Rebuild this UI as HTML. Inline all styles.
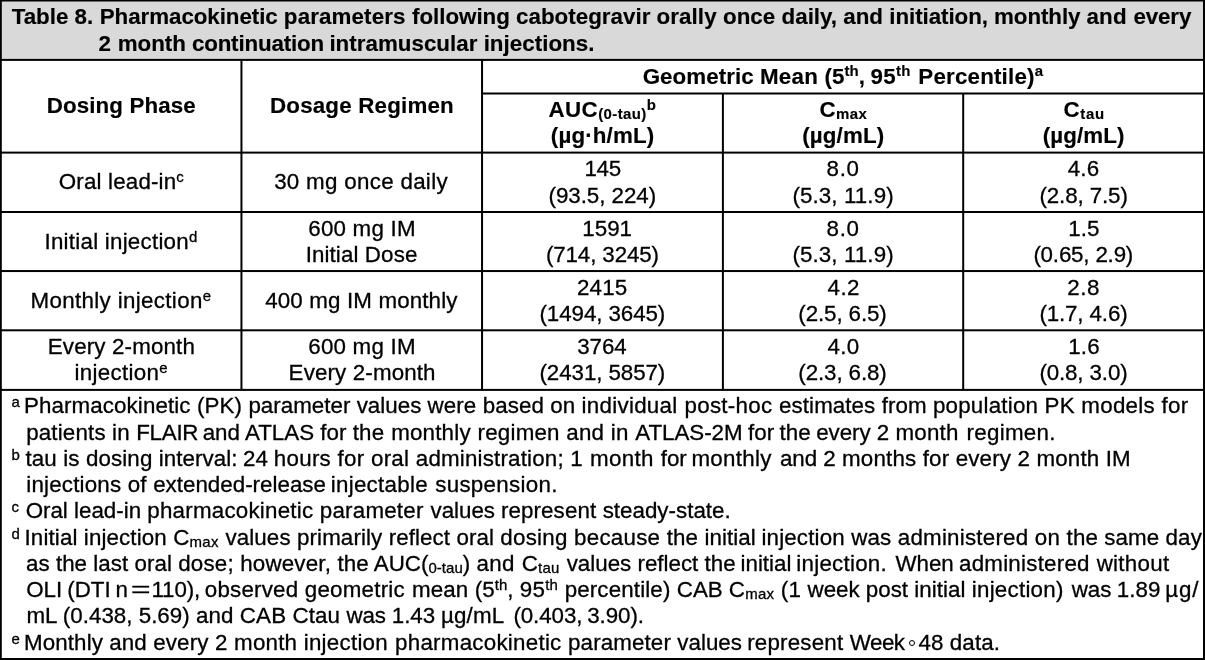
<!DOCTYPE html>
<html><head><meta charset="utf-8"><title>Table 8</title>
<style>
html,body{margin:0;padding:0;background:#fff}
body{width:1205px;height:660px;position:relative;overflow:hidden;will-change:transform;font-family:"Liberation Sans",sans-serif;color:#000}
.hd{position:absolute;left:0;top:0;width:1205px;height:60px;background:#d9d9d9}
.ln{position:absolute;left:0;top:0;fill:#000}
.t{position:absolute;white-space:nowrap;line-height:26px;font-size:22.35px;-webkit-text-stroke:0.3px #000}
.b{font-weight:bold;-webkit-text-stroke:0.15px #000}
.c{transform:translateX(-50%)}
.sp{position:relative;line-height:0}
.eq{display:inline-block;transform:scaleX(1.5);transform-origin:0 50%;margin-right:6.5px}
.ring{display:inline-block;box-sizing:border-box;width:6.6px;height:6.6px;border:1.3px solid #000;border-radius:50%;position:relative;top:-3.7px;margin:0 3px 0 4.3px}
</style></head><body>
<div class="hd"></div>
<svg class="ln" width="1205" height="660" viewBox="0 0 1205 660" shape-rendering="geometricPrecision">
<rect x="0.00" y="0" width="1.8" height="660"/>
<rect x="240.45" y="60" width="2.0" height="330"/>
<rect x="481.05" y="60" width="2.0" height="330"/>
<rect x="721.90" y="93.5" width="2.0" height="296.5"/>
<rect x="962.20" y="93.5" width="2.0" height="296.5"/>
<rect x="1203.00" y="0" width="2.0" height="660"/>
<rect x="0" y="0.00" width="1205" height="1.5"/>
<rect x="0" y="58.90" width="1205" height="2.0"/>
<rect x="481" y="92.50" width="724" height="2.0"/>
<rect x="0" y="151.60" width="1205" height="2.0"/>
<rect x="0" y="211.00" width="1205" height="2.0"/>
<rect x="0" y="270.05" width="1205" height="2.0"/>
<rect x="0" y="329.30" width="1205" height="2.0"/>
<rect x="0" y="388.90" width="1205" height="2.0"/>
<rect x="0" y="658.00" width="1205" height="2.0"/>
</svg>
<div id="t1" class="t b" style="left:11.77px;top:4.00px"><span id="t1_s0" class="sg" style="letter-spacing:-0.040px">Table </span><span id="t1_s1" class="sg" style="letter-spacing:0.127px;word-spacing:0.102px">8. </span><span id="t1_s2" class="sg" style="letter-spacing:-0.059px">Pharmacokinetic </span><span id="t1_s3" class="sg" style="letter-spacing:0.127px;word-spacing:0.040px">parameters </span><span id="t1_s4" class="sg" style="letter-spacing:-0.018px">following </span><span id="t1_s5" class="sg" style="letter-spacing:0.015px">cabotegravir </span><span id="t1_s6" class="sg" style="letter-spacing:0.071px">orally </span><span id="t1_s7" class="sg" style="letter-spacing:0.060px">once </span><span id="t1_s8" class="sg" style="letter-spacing:-0.013px">daily, </span><span id="t1_s9" class="sg" style="letter-spacing:0.038px">and </span><span id="t1_s10" class="sg" style="letter-spacing:-0.062px">initiation, </span><span id="t1_s11" class="sg" style="letter-spacing:-0.073px">monthly </span><span id="t1_s12" class="sg" style="letter-spacing:0.127px;word-spacing:0.382px">and </span><span id="t1_s13" class="sg" style="letter-spacing:-0.102px">every</span></div>
<div id="t2" class="t b" style="left:98.44px;top:31.00px"><span id="t2_s0" class="sg" style="letter-spacing:0.337px">2 </span><span id="t2_s1" class="sg" style="letter-spacing:-0.057px">month </span><span id="t2_s2" class="sg" style="letter-spacing:-0.162px;word-spacing:-0.655px">continuation </span><span id="t2_s3" class="sg" style="letter-spacing:0.020px">intramuscular </span><span id="t2_s4" class="sg" style="letter-spacing:0.025px">injections.</span></div>
<div id="h1" class="t b" style="left:46.65px;top:93.00px;letter-spacing:0.123px">Dosing Phase</div>
<div id="h2" class="t b" style="left:269.97px;top:93.00px;letter-spacing:0.190px">Dosage Regimen</div>
<div id="h3" class="t b" style="left:642.66px;top:64.00px"><span id="h3_s0" class="sg" style="letter-spacing:0.049px">Geometric </span><span id="h3_s1" class="sg" style="letter-spacing:0.281px">Mean </span><span id="h3_s2" class="sg" style="letter-spacing:0.042px;word-spacing:-0.742px">(5<span class="sp" style="font-size:0.67em;top:-0.530em">th</span>, </span><span id="h3_s3" class="sg" style="letter-spacing:0.282px;word-spacing:1.183px">95<span class="sp" style="font-size:0.67em;top:-0.530em">th</span> </span><span id="h3_s4" class="sg" style="letter-spacing:0.182px">Percentile)<span class="sp" style="font-size:0.67em;top:-0.530em">a</span></span></div>
<div id="h4a" class="t b" style="left:548.54px;top:97.00px;letter-spacing:0.403px">AUC<span class="sp" style="font-size:0.67em;top:0.127em">(0-tau)</span><span class="sp" style="font-size:0.67em;top:-0.485em">b</span></div>
<div id="h4b" class="t b" style="left:550.85px;top:123.00px;letter-spacing:0.141px">(µg·h/mL)</div>
<div id="h5a" class="t b" style="left:819.42px;top:97.00px;letter-spacing:0.408px">C<span class="sp" style="font-size:0.67em;top:0.127em">max</span></div>
<div id="h5b" class="t b" style="left:802.17px;top:123.00px;letter-spacing:0.166px">(µg/mL)</div>
<div id="h6a" class="t b" style="left:1063.46px;top:97.00px;letter-spacing:0.665px">C<span class="sp" style="font-size:0.67em;top:0.127em">tau</span></div>
<div id="h6b" class="t b" style="left:1042.69px;top:123.00px;letter-spacing:0.124px">(µg/mL)</div>
<div id="r0c0" class="t" style="left:58.81px;top:169.00px;letter-spacing:0.168px">Oral lead-in<span class="sp" style="font-size:0.67em;top:-0.485em">c</span></div>
<div id="r0c1" class="t" style="left:274.14px;top:169.00px;letter-spacing:0.302px">30 mg once daily</div>
<div id="r0c2a" class="t" style="left:584.45px;top:156.00px;letter-spacing:-0.315px">145</div>
<div id="r0c2b" class="t" style="left:548.56px;top:183.00px;letter-spacing:-0.049px">(93.5, 224)</div>
<div id="r0c3a" class="t" style="left:826.52px;top:156.00px;letter-spacing:0.725px">8.0</div>
<div id="r0c3b" class="t" style="left:792.42px;top:183.00px;letter-spacing:0.105px">(5.3, 11.9)</div>
<div id="r0c4a" class="t" style="left:1067.70px;top:156.00px;letter-spacing:0.215px">4.6</div>
<div id="r0c4b" class="t" style="left:1039.47px;top:183.00px;letter-spacing:-0.118px">(2.8, 7.5)</div>
<div id="r1c0" class="t" style="left:44.51px;top:229.00px;letter-spacing:0.240px">Initial injection<span class="sp" style="font-size:0.67em;top:-0.485em">d</span></div>
<div id="r1c1a" class="t" style="left:308.32px;top:216.00px;letter-spacing:0.203px">600 mg IM</div>
<div id="r1c1b" class="t" style="left:305.65px;top:242.00px;letter-spacing:0.107px">Initial Dose</div>
<div id="r1c2a" class="t c" style="left:607.15px;top:216.00px">1591</div>
<div id="r1c2b" class="t" style="left:545.91px;top:242.00px;letter-spacing:-0.119px">(714, 3245)</div>
<div id="r1c3a" class="t" style="left:826.52px;top:216.00px;letter-spacing:0.725px">8.0</div>
<div id="r1c3b" class="t" style="left:792.42px;top:242.00px;letter-spacing:0.105px">(5.3, 11.9)</div>
<div id="r1c4a" class="t" style="left:1068.30px;top:216.00px;letter-spacing:0.080px">1.5</div>
<div id="r1c4b" class="t" style="left:1033.38px;top:242.00px;letter-spacing:-0.191px">(0.65, 2.9)</div>
<div id="r2c0" class="t" style="left:30.51px;top:288.00px;letter-spacing:0.340px">Monthly injection<span class="sp" style="font-size:0.67em;top:-0.485em">e</span></div>
<div id="r2c1" class="t" style="left:265.24px;top:288.00px;letter-spacing:0.138px">400 mg IM monthly</div>
<div id="r2c2a" class="t" style="left:577.03px;top:275.00px;letter-spacing:0.159px">2415</div>
<div id="r2c2b" class="t" style="left:539.53px;top:301.00px;letter-spacing:-0.083px">(1494, 3645)</div>
<div id="r2c3a" class="t" style="left:827.55px;top:275.00px;letter-spacing:0.406px">4.2</div>
<div id="r2c3b" class="t" style="left:798.31px;top:301.00px;letter-spacing:-0.102px">(2.5, 6.5)</div>
<div id="r2c4a" class="t" style="left:1067.37px;top:275.00px;letter-spacing:0.508px">2.8</div>
<div id="r2c4b" class="t" style="left:1039.39px;top:301.00px;letter-spacing:-0.130px">(1.7, 4.6)</div>
<div id="r3c0a" class="t" style="left:47.80px;top:334.00px;letter-spacing:0.145px">Every 2-month</div>
<div id="r3c0b" class="t" style="left:74.60px;top:360.00px;letter-spacing:0.289px">injection<span class="sp" style="font-size:0.67em;top:-0.485em">e</span></div>
<div id="r3c1a" class="t" style="left:308.32px;top:334.00px;letter-spacing:0.203px">600 mg IM</div>
<div id="r3c1b" class="t" style="left:288.60px;top:360.00px;letter-spacing:0.138px">Every 2-month</div>
<div id="r3c2a" class="t" style="left:577.17px;top:334.00px;letter-spacing:-0.022px">3764</div>
<div id="r3c2b" class="t" style="left:539.53px;top:360.00px;letter-spacing:-0.083px">(2431, 5857)</div>
<div id="r3c3a" class="t" style="left:827.55px;top:334.00px;letter-spacing:0.240px">4.0</div>
<div id="r3c3b" class="t" style="left:798.31px;top:360.00px;letter-spacing:-0.102px">(2.3, 6.8)</div>
<div id="r3c4a" class="t" style="left:1068.30px;top:334.00px;letter-spacing:0.102px">1.6</div>
<div id="r3c4b" class="t" style="left:1039.39px;top:360.00px;letter-spacing:-0.130px">(0.8, 3.0)</div>
<div id="fa" class="t" style="left:11.50px;top:393.00px"><span class="sp" style="font-size:0.67em;top:-0.403em">a</span></div>
<div id="f0" class="t" style="left:23.92px;top:393.00px"><span id="f0_s0" class="sg" style="letter-spacing:0.104px">Pharmacokinetic (PK) </span><span id="f0_s1" class="sg" style="letter-spacing:0.031px;word-spacing:-0.078px">parameter values </span><span id="f0_s2" class="sg" style="letter-spacing:0.086px">were based on </span><span id="f0_s3" class="sg" style="letter-spacing:0.271px;word-spacing:0.566px">individual </span><span id="f0_s4" class="sg" style="letter-spacing:0.271px;word-spacing:0.231px">post-hoc </span><span id="f0_s5" class="sg" style="letter-spacing:0.071px">estimates from </span><span id="f0_s6" class="sg" style="letter-spacing:0.218px">population PK </span><span id="f0_s7" class="sg" style="letter-spacing:0.271px;word-spacing:0.058px">models for</span></div>
<div id="f1" class="t" style="left:26.16px;top:420.00px"><span id="f1_s0" class="sg" style="letter-spacing:0.163px">patients in </span><span id="f1_s1" class="sg" style="letter-spacing:-0.263px;word-spacing:-1.500px">FLAIR </span><span id="f1_s2" class="sg" style="letter-spacing:0.012px">and ATLAS for </span><span id="f1_s3" class="sg" style="letter-spacing:0.203px;word-spacing:0.359px">the monthly </span><span id="f1_s4" class="sg" style="letter-spacing:0.203px;word-spacing:0.186px">regimen and in </span><span id="f1_s5" class="sg" style="letter-spacing:-0.037px;word-spacing:-0.597px">ATLAS-2M for the </span><span id="f1_s6" class="sg" style="letter-spacing:-0.020px">every 2 </span><span id="f1_s7" class="sg" style="letter-spacing:0.203px;word-spacing:1.384px">month </span><span id="f1_s8" class="sg" style="letter-spacing:0.318px">regimen.</span></div>
<div id="fb" class="t" style="left:11.50px;top:446.00px"><span class="sp" style="font-size:0.67em;top:-0.403em">b</span></div>
<div id="f2" class="t" style="left:25.47px;top:446.00px"><span id="f2_s0" class="sg" style="letter-spacing:0.115px">tau is dosing </span><span id="f2_s1" class="sg" style="letter-spacing:0.048px;word-spacing:-0.549px">interval: 24 </span><span id="f2_s2" class="sg" style="letter-spacing:0.278px">hours for oral </span><span id="f2_s3" class="sg" style="letter-spacing:0.181px">administration; </span><span id="f2_s4" class="sg" style="letter-spacing:0.288px;word-spacing:0.626px">1 month </span><span id="f2_s5" class="sg" style="letter-spacing:-0.024px;word-spacing:-1.500px">for </span><span id="f2_s6" class="sg" style="letter-spacing:0.288px;word-spacing:1.730px">monthly </span><span id="f2_s7" class="sg" style="letter-spacing:0.048px;word-spacing:-0.455px">and </span><span id="f2_s8" class="sg" style="letter-spacing:0.163px">2 months for </span><span id="f2_s9" class="sg" style="letter-spacing:0.164px">every 2 month IM</span></div>
<div id="f3" class="t" style="left:26.26px;top:472.00px"><span id="f3_s0" class="sg" style="letter-spacing:0.191px">injections of </span><span id="f3_s1" class="sg" style="letter-spacing:0.013px;word-spacing:-1.500px">extended-release </span><span id="f3_s2" class="sg" style="letter-spacing:0.278px;word-spacing:0.806px">injectable </span><span id="f3_s3" class="sg" style="letter-spacing:0.298px">suspension.</span></div>
<div id="fc" class="t" style="left:11.50px;top:498.00px"><span class="sp" style="font-size:0.67em;top:-0.403em">c</span></div>
<div id="f4" class="t" style="left:25.64px;top:498.00px"><span id="f4_s0" class="sg" style="letter-spacing:-0.003px">Oral lead-in </span><span id="f4_s1" class="sg" style="letter-spacing:0.223px">pharmacokinetic </span><span id="f4_s2" class="sg" style="letter-spacing:0.224px;word-spacing:0.430px">parameter </span><span id="f4_s3" class="sg" style="letter-spacing:-0.016px;word-spacing:-0.305px">values </span><span id="f4_s4" class="sg" style="letter-spacing:0.114px">represent </span><span id="f4_s5" class="sg" style="letter-spacing:0.011px">steady-state.</span></div>
<div id="fd" class="t" style="left:11.50px;top:525.00px"><span class="sp" style="font-size:0.67em;top:-0.403em">d</span></div>
<div id="f5" class="t" style="left:24.55px;top:525.00px"><span id="f5_s0" class="sg" style="letter-spacing:0.114px">Initial injection </span><span id="f5_s1" class="sg" style="letter-spacing:0.264px;word-spacing:0.299px">C<span class="sp" style="font-size:0.67em;top:0.127em">max</span> </span><span id="f5_s2" class="sg" style="letter-spacing:0.109px">values primarily </span><span id="f5_s3" class="sg" style="letter-spacing:0.086px">reflect oral </span><span id="f5_s4" class="sg" style="letter-spacing:0.241px">dosing because </span><span id="f5_s5" class="sg" style="letter-spacing:0.137px">the </span><span id="f5_s6" class="sg" style="letter-spacing:0.024px;word-spacing:-0.388px">initial </span><span id="f5_s7" class="sg" style="letter-spacing:0.155px">injection was </span><span id="f5_s8" class="sg" style="letter-spacing:0.227px">administered on </span><span id="f5_s9" class="sg" style="letter-spacing:0.097px">the same day</span></div>
<div id="f6" class="t" style="left:25.98px;top:551.00px"><span id="f6_s0" class="sg" style="letter-spacing:0.042px">as the last oral </span><span id="f6_s1" class="sg" style="letter-spacing:0.186px">dose; however, </span><span id="f6_s2" class="sg" style="letter-spacing:0.040px">the AUC(<span class="sp" style="font-size:0.67em;top:0.127em">0-tau</span>) </span><span id="f6_s3" class="sg" style="letter-spacing:0.238px;word-spacing:0.678px">and C<span class="sp" style="font-size:0.67em;top:0.127em">tau</span> </span><span id="f6_s4" class="sg" style="letter-spacing:-0.002px;word-spacing:-0.012px">values reflect </span><span id="f6_s5" class="sg" style="letter-spacing:-0.002px;word-spacing:-1.262px">the initial </span><span id="f6_s6" class="sg" style="letter-spacing:0.238px;word-spacing:2.010px">injection. </span><span id="f6_s7" class="sg" style="letter-spacing:-0.002px;word-spacing:-0.985px">When </span><span id="f6_s8" class="sg" style="letter-spacing:0.238px;word-spacing:0.442px">administered </span><span id="f6_s9" class="sg" style="letter-spacing:0.297px">without</span></div>
<div id="f7" class="t" style="left:26.22px;top:577.00px"><span id="f7_s0" class="sg" style="letter-spacing:-0.002px;word-spacing:-1.234px">OLI (DTI </span><span id="f7_s1" class="sg" style="letter-spacing:2.602px">n</span><span id="f7_s2" class="sg" style="letter-spacing:1.232px"><span class="eq">=</span></span><span id="f7_s3" class="sg" style="letter-spacing:-0.094px;word-spacing:-1.500px">110), </span><span id="f7_s4" class="sg" style="letter-spacing:0.196px">observed </span><span id="f7_s5" class="sg" style="letter-spacing:0.238px;word-spacing:0.516px">geometric </span><span id="f7_s6" class="sg" style="letter-spacing:0.128px">mean </span><span id="f7_s7" class="sg" style="letter-spacing:0.051px">(5<span class="sp" style="font-size:0.67em;top:-0.485em">th</span>, </span><span id="f7_s8" class="sg" style="letter-spacing:0.238px;word-spacing:0.066px">95<span class="sp" style="font-size:0.67em;top:-0.485em">th</span> </span><span id="f7_s9" class="sg" style="letter-spacing:0.137px">percentile) </span><span id="f7_s10" class="sg" style="letter-spacing:-0.002px;word-spacing:-0.179px">CAB </span><span id="f7_s11" class="sg" style="letter-spacing:0.238px;word-spacing:0.120px">C<span class="sp" style="font-size:0.67em;top:0.127em">max</span> </span><span id="f7_s12" class="sg" style="letter-spacing:0.228px">(1 </span><span id="f7_s13" class="sg" style="letter-spacing:-0.002px;word-spacing:-0.051px">week post </span><span id="f7_s14" class="sg" style="letter-spacing:0.058px">initial </span><span id="f7_s15" class="sg" style="letter-spacing:0.238px;word-spacing:1.663px">injection) </span><span id="f7_s16" class="sg" style="letter-spacing:-0.002px;word-spacing:-0.794px">was </span><span id="f7_s17" class="sg" style="letter-spacing:-0.002px;word-spacing:-1.200px">1.89 </span><span id="f7_s18" class="sg" style="letter-spacing:0.744px">µg/</span></div>
<div id="f8" class="t" style="left:26.38px;top:603.00px"><span id="f8_s0" class="sg" style="letter-spacing:0.013px">mL (0.438, 5.69) </span><span id="f8_s1" class="sg" style="letter-spacing:0.113px">and CAB Ctau </span><span id="f8_s2" class="sg" style="letter-spacing:-0.073px;word-spacing:-0.242px">was 1.43 </span><span id="f8_s3" class="sg" style="letter-spacing:0.167px;word-spacing:3.516px">µg/mL </span><span id="f8_s4" class="sg" style="letter-spacing:-0.073px;word-spacing:-1.393px">(0.403, 3.90).</span></div>
<div id="fe" class="t" style="left:11.50px;top:630.00px"><span class="sp" style="font-size:0.67em;top:-0.403em">e</span></div>
<div id="f9" class="t" style="left:24.02px;top:630.00px"><span id="f9_s0" class="sg" style="letter-spacing:0.104px">Monthly and </span><span id="f9_s1" class="sg" style="letter-spacing:0.159px">every </span><span id="f9_s2" class="sg" style="letter-spacing:0.216px">2 month </span><span id="f9_s3" class="sg" style="letter-spacing:0.256px;word-spacing:0.576px">injection </span><span id="f9_s4" class="sg" style="letter-spacing:0.256px;word-spacing:0.040px">pharmacokinetic </span><span id="f9_s5" class="sg" style="letter-spacing:0.115px">parameter </span><span id="f9_s6" class="sg" style="letter-spacing:0.016px;word-spacing:-0.964px">values </span><span id="f9_s7" class="sg" style="letter-spacing:0.195px">represent </span><span id="f9_s8" class="sg" style="letter-spacing:-0.497px">Week<span class="ring"></span></span><span id="f9_s9" class="sg" style="letter-spacing:0.113px">48 data.</span></div>
</body></html>
